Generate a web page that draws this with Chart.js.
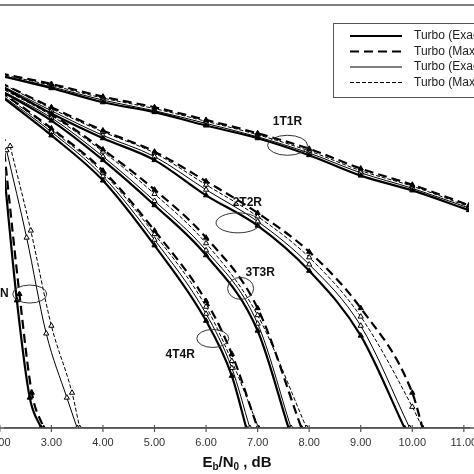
<!DOCTYPE html>
<html><head><meta charset="utf-8">
<script src="https://cdn.jsdelivr.net/npm/chart.js@4"></script>
<style>html,body{margin:0;background:#fff}#wrap{width:474px;height:474px}</style>
</head><body><div id="wrap"><canvas id="c"></canvas></div>
<script>
// x = Eb/N0 (dB), y = log10(BER)
const xTicks = [2, 3, 4, 5, 6, 7, 8, 9, 10, 11];

const x1 = [2, 3, 4, 5, 6, 7, 8, 9, 10, 11.1];
const t1ExactThick = [-1.0, -1.18, -1.38, -1.52, -1.71, -1.89, -2.13, -2.42, -2.63, -2.91];
const t1MaxThick = [-0.97, -1.12, -1.30, -1.45, -1.63, -1.82, -2.04, -2.32, -2.55, -2.84];
const t1ExactThin = [-1.0, -1.16, -1.35, -1.50, -1.68, -1.87, -2.10, -2.38, -2.60, -2.88];
const t1MaxThin = [-0.98, -1.14, -1.32, -1.47, -1.65, -1.84, -2.07, -2.35, -2.57, -2.86];

const x2a = [2, 3, 4, 5, 6, 7, 8, 9, 9.85];
const x2b = [2, 3, 4, 5, 6, 7, 8, 9, 10, 10.2];
const x2c = [2, 3, 4, 5, 6, 7, 8, 9, 9.95];
const t2ExactThick = [-1.14, -1.54, -1.89, -2.2, -2.7, -3.13, -3.77, -4.69, -6.0];
const t2MaxThick = [-1.1, -1.45, -1.78, -2.08, -2.5, -2.95, -3.5, -4.3, -5.5, -6.0];
const t2ExactThin = [-1.13, -1.5, -1.85, -2.15, -2.62, -3.07, -3.68, -4.55, -6.0];
const t2MaxThin = [-1.1, -1.47, -1.8, -2.1, -2.55, -3.0, -3.58, -4.42, -5.7, -6.0];

const x3a = [2, 3, 4, 5, 6, 7, 7.6];
const x3b = [2, 3, 4, 5, 6, 7, 7.85];
const x3c = [2, 3, 4, 5, 6, 7, 7.65];
const x3d = [2, 3, 4, 5, 6, 7, 7.95];
const t3ExactThick = [-1.21, -1.64, -2.2, -2.84, -3.55, -4.62, -6.0];
const t3MaxThick = [-1.15, -1.55, -2.05, -2.62, -3.3, -4.3, -6.0];
const t3ExactThin = [-1.2, -1.6, -2.15, -2.78, -3.48, -4.52, -6.0];
const t3MaxThin = [-1.17, -1.57, -2.08, -2.68, -3.38, -4.4, -6.0];

const x4a = [2, 3, 4, 5, 6, 6.5, 6.78];
const x4b = [2, 3, 4, 5, 6, 6.5, 7.0];
const x4c = [2, 3, 4, 5, 6, 6.5, 6.85];
const x4d = [2, 3, 4, 5, 6, 6.5, 7.02];
const t4ExactThick = [-1.28, -1.85, -2.49, -3.41, -4.48, -5.26, -6.0];
const t4MaxThick = [-1.22, -1.75, -2.35, -3.2, -4.2, -4.95, -6.0];
const t4ExactThin = [-1.26, -1.8, -2.43, -3.33, -4.38, -5.15, -6.0];
const t4MaxThin = [-1.23, -1.77, -2.38, -3.25, -4.28, -5.05, -6.0];

const xg1 = [2.03, 2.33, 2.58, 2.8];
const xg2 = [2.06, 2.38, 2.62, 2.85];
const xg3 = [2.13, 2.52, 2.9, 3.3, 3.5];
const xg4 = [2.2, 2.6, 3.0, 3.4, 3.55];
const gExactThick = [-1.96, -4.19, -5.57, -6.0];
const gMaxThick = [-1.9, -4.1, -5.5, -6.0];
const gExactThin = [-2.06, -3.3, -4.66, -5.57, -6.0];
const gMaxThin = [-2.0, -3.2, -4.55, -5.5, -6.0];

const groupLabels = [
  { text: '1T1R', lx: 7.58, ly: -1.66, ex: 7.58, ey: -1.99, rx: 20, ry: 10 },
  { text: '2T2R', lx: 6.8, ly: -2.81, ex: 6.62, ey: -3.09, rx: 22, ry: 10 },
  { text: '3T3R', lx: 7.05, ly: -3.8, ex: 6.67, ey: -4.02, rx: 13, ry: 11 },
  { text: '4T4R', lx: 5.5, ly: -4.96, ex: 6.13, ey: -4.73, rx: 16, ry: 9 },
  { text: 'AWGN', lx: 2.17, ly: -4.1, ex: 2.58, ey: -4.1, rx: 17, ry: 9, right: true },
];
const legendLabels = ['Turbo (Exact)', 'Turbo (Max Log-MAP)', 'Turbo (Exact)', 'Turbo (Max Log-MAP)'];

const styles = [
  { w: 2.2, dash: [], fill: true },
  { w: 2.2, dash: [9, 5], fill: true },
  { w: 1, dash: [], fill: false },
  { w: 1, dash: [4, 2], fill: false },
];

function pts(xs, ys) { return xs.map((x, i) => ({ x, y: ys[i] })); }
function ds(xs, ys, k) {
  const s = styles[k];
  return {
    data: pts(xs, ys), borderColor: '#000', borderWidth: s.w, borderDash: s.dash,
    pointStyle: 'triangle', pointRadius: 3, pointBorderWidth: 1,
    pointBorderColor: '#000', pointBackgroundColor: s.fill ? '#000' : '#fff',
    cubicInterpolationMode: 'monotone', clip: 0,
  };
}

const datasets = [
  ds(x1, t1ExactThick, 0), ds(x1, t1MaxThick, 1), ds(x1, t1ExactThin, 2), ds(x1, t1MaxThin, 3),
  ds(x2a, t2ExactThick, 0), ds(x2b, t2MaxThick, 1), ds(x2c, t2ExactThin, 2), ds(x2b, t2MaxThin, 3),
  ds(x3a, t3ExactThick, 0), ds(x3b, t3MaxThick, 1), ds(x3c, t3ExactThin, 2), ds(x3d, t3MaxThin, 3),
  ds(x4a, t4ExactThick, 0), ds(x4b, t4MaxThick, 1), ds(x4c, t4ExactThin, 2), ds(x4d, t4MaxThin, 3),
  ds(xg1, gExactThick, 0), ds(xg2, gMaxThick, 1), ds(xg3, gExactThin, 2), ds(xg4, gMaxThin, 3),
];

const decor = {
  id: 'decor',
  afterDraw(chart) {
    const { ctx, scales: { x, y }, chartArea: a } = chart;
    ctx.save();
    ctx.strokeStyle = '#555'; ctx.lineWidth = 1.5; ctx.setLineDash([]);
    ctx.beginPath(); ctx.moveTo(0, a.top); ctx.lineTo(474, a.top); ctx.stroke();
    ctx.beginPath(); ctx.moveTo(0, a.bottom); ctx.lineTo(474, a.bottom); ctx.stroke();
    // tick marks and labels along x
    ctx.lineWidth = 1.2; ctx.fillStyle = '#333';
    ctx.font = '11px Arial, "Liberation Sans", sans-serif';
    ctx.textAlign = 'center'; ctx.textBaseline = 'top';
    for (const v of xTicks) {
      const px = x.getPixelForValue(v);
      ctx.beginPath(); ctx.moveTo(px, a.bottom - 3); ctx.lineTo(px, a.bottom + 4); ctx.stroke();
      ctx.fillText(v.toFixed(2), px, a.bottom + 9);
    }
    // group labels and ellipses
    ctx.font = 'bold 12px Arial, "Liberation Sans", sans-serif';
    ctx.fillStyle = '#111'; ctx.textBaseline = 'middle';
    for (const g of groupLabels) {
      ctx.strokeStyle = '#333'; ctx.lineWidth = 1;
      ctx.beginPath();
      ctx.ellipse(x.getPixelForValue(g.ex), y.getPixelForValue(g.ey), g.rx, g.ry, 0, 0, Math.PI * 2);
      ctx.stroke();
      ctx.textAlign = g.right ? 'right' : 'center';
      ctx.fillText(g.text, x.getPixelForValue(g.lx), y.getPixelForValue(g.ly));
    }
    // legend
    const lx = 333, ly = 23;
    ctx.fillStyle = '#fff'; ctx.fillRect(lx, ly, 200, 74);
    ctx.strokeStyle = '#555'; ctx.lineWidth = 1; ctx.strokeRect(lx + 0.5, ly + 0.5, 200, 74);
    ctx.font = '12px Arial, "Liberation Sans", sans-serif';
    ctx.textAlign = 'left';
    legendLabels.forEach((t, i) => {
      const s = styles[i], yy = ly + 13 + i * 15.5;
      ctx.strokeStyle = '#000'; ctx.lineWidth = s.w; ctx.setLineDash(s.dash);
      ctx.beginPath(); ctx.moveTo(350, yy); ctx.lineTo(402, yy); ctx.stroke();
      ctx.setLineDash([]); ctx.fillStyle = '#222';
      ctx.fillText(t, 414, yy);
    });
    // x title with subscripts
    const cx = 237, ty = 463;
    ctx.fillStyle = '#111';
    const big = 'bold 15px Arial, "Liberation Sans", sans-serif';
    const sub = 'bold 10px Arial, "Liberation Sans", sans-serif';
    const parts = [['E', big, 0], ['b', sub, 4], ['/N', big, 0], ['0', sub, 4], [' , dB', big, 0]];
    let total = 0;
    for (const p of parts) { ctx.font = p[1]; total += ctx.measureText(p[0]).width; }
    let px = cx - total / 2;
    for (const p of parts) {
      ctx.font = p[1]; ctx.fillText(p[0], px, ty + p[2]);
      px += ctx.measureText(p[0]).width;
    }
    ctx.restore();
  },
};

new Chart(document.getElementById('c'), {
  type: 'line',
  data: { datasets },
  plugins: [decor],
  options: {
    responsive: true, maintainAspectRatio: false, animation: false,
    layout: { padding: { left: 0, right: 0, top: 5, bottom: 46 } },
    plugins: { legend: { display: false }, tooltip: { enabled: false } },
    scales: {
      x: {
        type: 'linear', min: 2.1, max: 11.1,
        grid: { display: false, drawTicks: false },
        border: { color: '#555', width: 1.5 },
        ticks: { display: false },
      },
      y: { type: 'linear', min: -6, max: 0, display: false },
    },
  },
});
</script></body></html>
